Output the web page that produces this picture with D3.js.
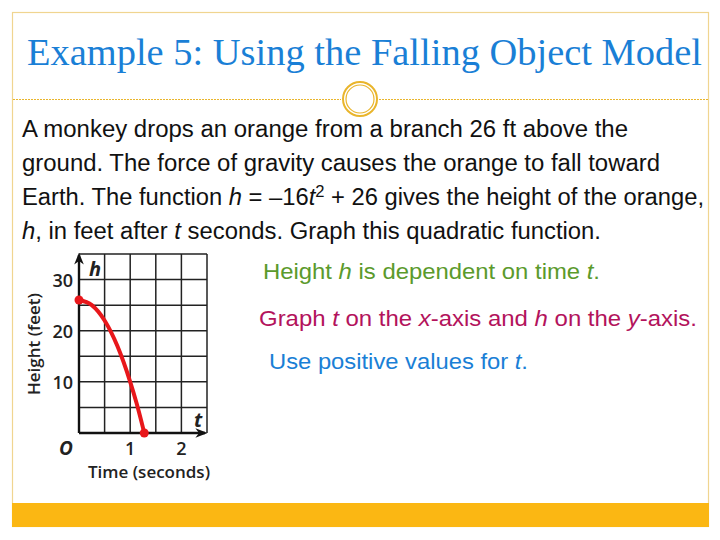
<!DOCTYPE html>
<html>
<head>
<meta charset="utf-8">
<script src="https://cdn.jsdelivr.net/npm/d3@7"></script>
<style>
  body { margin: 0; background: #fff; }
  #slide { width: 720px; height: 540px; }
</style>
</head>
<body>
<div id="slide"></div>
<script>
// values
var tickY = [10, 20, 30]
  , tickX = [1, 2]
  , curveT = [0, 0.25, 0.5, 0.75, 1.0, 1.125, 1.25, 1.275]
  , curveH = [26, 25, 22, 17, 10, 5.8, 1, 0]
  , endT = [0, 1.275]
  , endH = [26, 0]

var W = 720, H = 540
  , gold = "#e9b52c"
  , svg = d3.select("#slide").append("svg")
      .attr("width", W)
      .attr("height", H)

/*
 * slide frame
 */
svg.append("rect")
  .attr("x", 12.5).attr("y", 12.5)
  .attr("width", 696).attr("height", 514)
  .style("fill", "none")
  .style("stroke", "#f0d590")
  .style("stroke-width", 1.2)

svg.append("rect")
  .attr("x", 12).attr("y", 503)
  .attr("width", 697).attr("height", 24)
  .style("fill", "#fbb713")

svg.append("text")
  .attr("x", 27).attr("y", 65)
  .attr("textLength", 675)
  .attr("lengthAdjust", "spacingAndGlyphs")
  .style("font-family", "'Liberation Serif', serif")
  .style("font-size", "37px")
  .style("fill", "#1a7fd6")
  .text("Example 5: Using the Falling Object Model")

// dotted rule with the ring in the middle
svg.append("line")
  .attr("x1", 13).attr("x2", 341).attr("y1", 99.5).attr("y2", 99.5)
  .style("stroke", gold).style("stroke-width", 1).style("stroke-dasharray", "2,1")
svg.append("line")
  .attr("x1", 379).attr("x2", 708).attr("y1", 99.5).attr("y2", 99.5)
  .style("stroke", gold).style("stroke-width", 1).style("stroke-dasharray", "2,1")
svg.append("circle")
  .attr("cx", 360).attr("cy", 99).attr("r", 17)
  .style("fill", "#fff").style("stroke", gold).style("stroke-width", 2)
svg.append("circle")
  .attr("cx", 360).attr("cy", 99).attr("r", 14)
  .style("fill", "none").style("stroke", gold).style("stroke-width", 1.2)

/*
 * body text, pieces are [text, italic, superscript, back down]
 */
function richLine(x, y, width, parts, color, size) {
  var t = svg.append("text")
    .attr("x", x).attr("y", y)
    .attr("textLength", width)
    .attr("lengthAdjust", "spacingAndGlyphs")
    .style("font-family", "'Liberation Sans', Arial, sans-serif")
    .style("font-size", size + "px")
    .style("fill", color)
  parts.forEach(function (p) {
    var s = t.append("tspan").text(p[0])
    if (p[1]) s.style("font-style", "italic")
    if (p[2]) s.attr("dy", -8).style("font-size", (size * 0.7) + "px")
    if (p[3]) s.attr("dy", 8)
  })
  return t
}

richLine(22, 137, 606, [["A monkey drops an orange from a branch 26 ft above the"]], "#111", 23)
richLine(22, 171, 638, [["ground. The force of gravity causes the orange to fall toward"]], "#111", 23)
richLine(22, 205, 682, [["Earth. The function "], ["h", 1], [" = \u201316"], ["t", 1], ["2", 0, 1],
  [" + 26 gives the height of the orange,", 0, 0, 1]], "#111", 23)
richLine(22, 239, 579, [["h", 1], [", in feet after "], ["t", 1], [" seconds. Graph this quadratic function."]], "#111", 23)

richLine(263, 279, 337, [["Height "], ["h", 1], [" is dependent on time "], ["t", 1], ["."]], "#5b9a2c", 22)
richLine(259, 326, 438, [["Graph "], ["t", 1], [" on the "], ["x", 1], ["-axis and "], ["h", 1], [" on the "], ["y", 1], ["-axis."]], "#b3135c", 22)
richLine(269, 369, 259, [["Use positive values for "], ["t", 1], ["."]], "#1a7fd6", 22)

/*
 * graph
 */
var x = d3.scaleLinear().domain([0, 2.5]).range([79, 207])
  , y = d3.scaleLinear().domain([0, 35]).range([433, 254])
  , g = svg.append("g")
  , gridFont = "'Open Sans', 'DejaVu Sans', sans-serif"

g.selectAll("line.v")
    .data(d3.range(0.5, 2.51, 0.5))
  .enter().append("line")
    .attr("x1", function (d) { return x(d) }).attr("x2", function (d) { return x(d) })
    .attr("y1", y(35)).attr("y2", y(0))
    .style("stroke", "#222").style("stroke-width", 1.5)

g.selectAll("line.h")
    .data(d3.range(5, 35.1, 5))
  .enter().append("line")
    .attr("x1", x(0)).attr("x2", x(2.5))
    .attr("y1", function (d) { return y(d) }).attr("y2", function (d) { return y(d) })
    .style("stroke", "#222").style("stroke-width", 1.5)

svg.append("defs").append("marker")
    .attr("id", "arr")
    .attr("viewBox", "0 0 10 10")
    .attr("refX", 8).attr("refY", 5)
    .attr("markerWidth", 5).attr("markerHeight", 5)
    .attr("orient", "auto")
  .append("path")
    .attr("d", "M0,1 L10,5 L0,9 L3,5 Z")
    .style("fill", "#111")

g.append("line")
  .attr("x1", x(0)).attr("x2", x(2.5) - 2)
  .attr("y1", y(0)).attr("y2", y(0))
  .attr("marker-end", "url(#arr)")
  .style("stroke", "#111").style("stroke-width", 2.4)
g.append("line")
  .attr("x1", x(0)).attr("x2", x(0))
  .attr("y1", y(0)).attr("y2", y(35) + 1)
  .attr("marker-end", "url(#arr)")
  .style("stroke", "#111").style("stroke-width", 2.4)

g.selectAll("text.yt")
    .data(tickY)
  .enter().append("text")
    .attr("x", x(0) - 6)
    .attr("y", function (d) { return y(d) + 7 })
    .attr("text-anchor", "end")
    .style("font-family", gridFont).style("font-size", "18px")
    .style("font-weight", "600").style("fill", "#222")
    .text(function (d) { return d })

g.selectAll("text.xt")
    .data(tickX)
  .enter().append("text")
    .attr("x", function (d) { return x(d) })
    .attr("y", 455)
    .attr("text-anchor", "middle")
    .style("font-family", gridFont).style("font-size", "18px")
    .style("font-weight", "600").style("fill", "#222")
    .text(function (d) { return d })

g.append("text")
  .attr("x", 66).attr("y", 455)
  .attr("text-anchor", "middle")
  .style("font-family", gridFont).style("font-size", "19px")
  .style("font-style", "italic").style("font-weight", "700").style("fill", "#222")
  .text("O")

g.append("text")
  .attr("x", 89).attr("y", 276)
  .style("font-family", gridFont).style("font-size", "20px")
  .style("font-style", "italic").style("font-weight", "700").style("fill", "#222")
  .text("h")

g.append("text")
  .attr("x", 194).attr("y", 427)
  .style("font-family", gridFont).style("font-size", "20px")
  .style("font-style", "italic").style("font-weight", "700").style("fill", "#222")
  .text("t")

g.append("text")
  .attr("x", 149).attr("y", 478)
  .attr("text-anchor", "middle")
  .style("font-family", gridFont).style("font-size", "17px")
  .style("font-weight", "600").style("fill", "#222")
  .text("Time (seconds)")

g.append("text")
  .attr("transform", "translate(40,344) rotate(-90)")
  .attr("text-anchor", "middle")
  .style("font-family", gridFont).style("font-size", "17px")
  .style("font-weight", "600").style("fill", "#222")
  .text("Height (feet)")

var pts = curveT.map(function (t, i) { return [t, curveH[i]] })
  , line = d3.line()
      .x(function (d) { return x(d[0]) })
      .y(function (d) { return y(d[1]) })
      .curve(d3.curveMonotoneX)

g.append("path")
  .datum(pts)
  .attr("d", line)
  .style("fill", "none")
  .style("stroke", "#e8171b")
  .style("stroke-width", 4)

g.selectAll("circle.end")
    .data(endT)
  .enter().append("circle")
    .attr("cx", function (d) { return x(d) })
    .attr("cy", function (d, i) { return y(endH[i]) })
    .attr("r", 4.5)
    .style("fill", "#e8171b")
</script>
</body>
</html>
